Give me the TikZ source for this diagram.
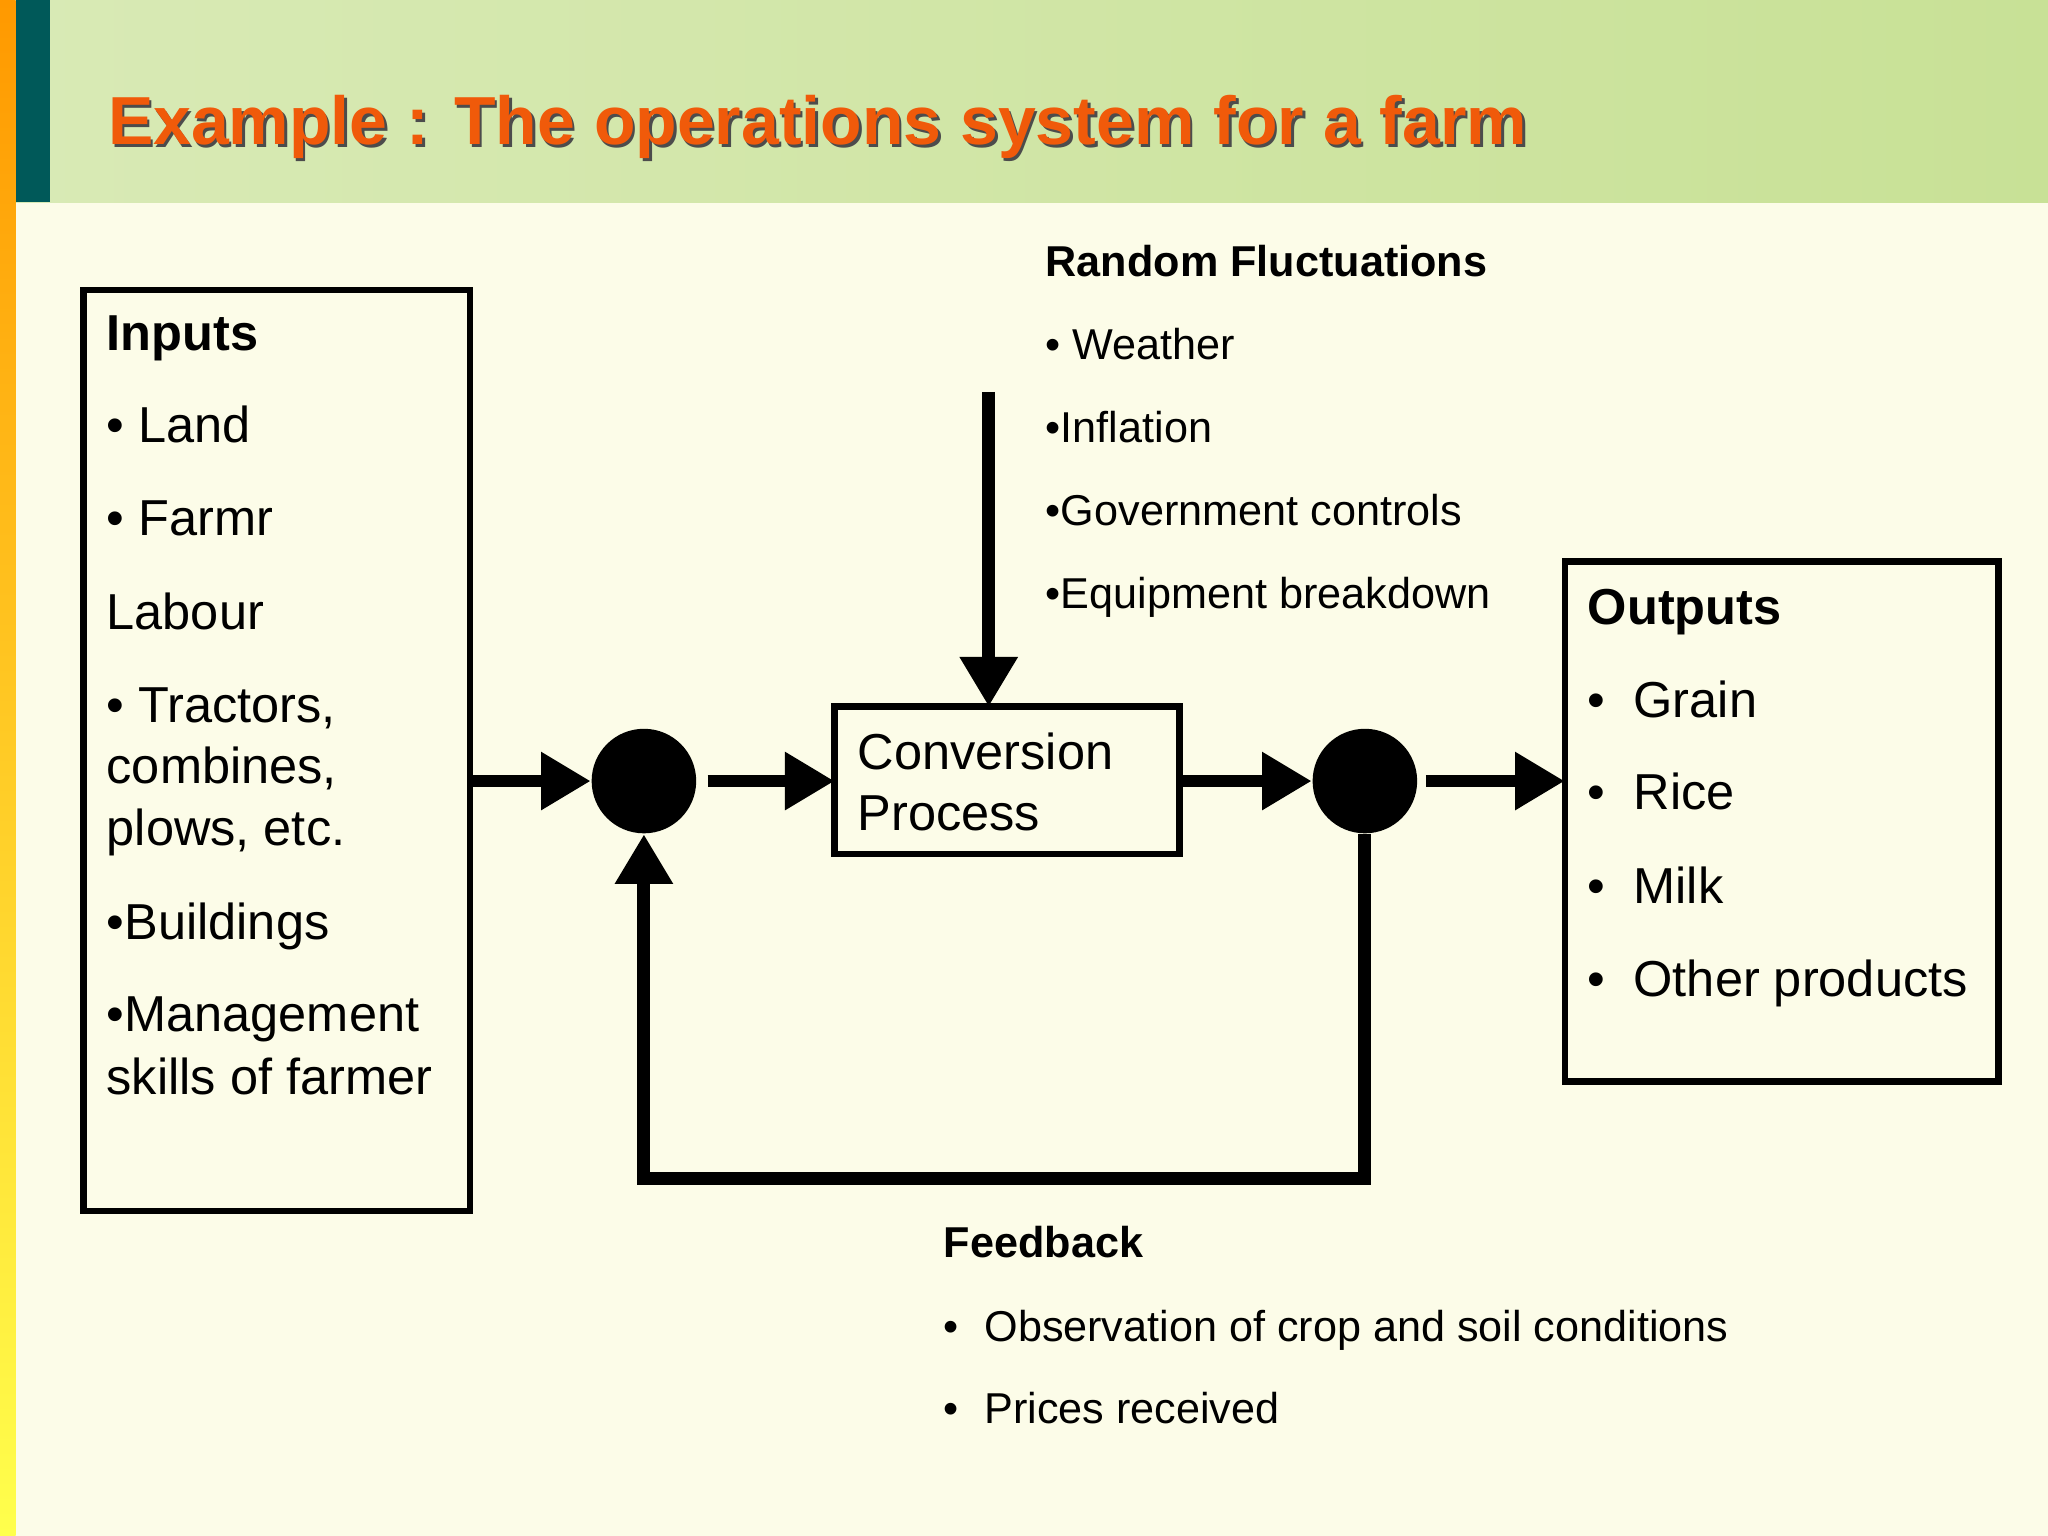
\documentclass[tikz,border=0pt]{standalone}
\usepackage{fontspec}
\setmainfont{Liberation Sans}
\usetikzlibrary{arrows.meta}
\definecolor{titleorange}{RGB}{240,90,10}
\definecolor{bandgreen}{RGB}{200,225,150}
\definecolor{cream}{RGB}{252,252,232}
\tikzstyle{box}=[draw=black,line width=1.4pt]
\tikzstyle{txt}=[anchor=base west,inner sep=0pt,font=\fontsize{11}{13}\selectfont]
\tikzstyle{small}=[anchor=base west,inner sep=0pt,font=\fontsize{9.4}{11}\selectfont]
\tikzstyle{junction}=[circle,fill=black,minimum size=0.8cm,inner sep=0pt]
\tikzstyle{flow}=[line width=2.8pt,-{Triangle[length=0.38cm,width=0.42cm]}]

\begin{document}
\begin{tikzpicture}[x=0.01cm,y=-0.01cm]
% background
  \fill[cream] (0,0) rectangle (1568,1176);
  \shade[left color=bandgreen!70!white,right color=bandgreen] (0,0) rectangle (1568,155);
  \shade[top color=orange!80!yellow,bottom color=yellow!70!white] (0,0) rectangle (12,1176);
  \fill[teal!70!black] (12,0) rectangle (38,155);
  \useasboundingbox (0,0) rectangle (1568,1176);
% title
  \node[anchor=base west,inner sep=0pt,font=\fontsize{14.8}{18}\selectfont\bfseries,text=black!70] at (84,113) {Example : The operations system for a farm};
  \node[anchor=base west,inner sep=0pt,font=\fontsize{14.8}{18}\selectfont\bfseries,text=titleorange] (title) at (82,111) {Example : The operations system for a farm};
% inputs
  \draw[box] (64,222) rectangle (360,927);
  \coordinate (inR) at (360,598);
  \node[txt,font=\fontsize{11}{13}\selectfont\bfseries] (in0) at (81,268) {Inputs};
  \node[txt] (in1) at (81,339) {\textbullet{} Land};
  \node[txt] (in2) at (81,410) {\textbullet{} Farmr};
  \node[txt] (in3) at (81,482) {Labour};
  \node[txt] (in4) at (81,553) {\textbullet{} Tractors,};
  \node[txt] (in5) at (81,600) {combines,};
  \node[txt] (in6) at (81,647) {plows, etc.};
  \node[txt] (in7) at (81,719) {\textbullet Buildings};
  \node[txt] (in8) at (81,790) {\textbullet Management};
  \node[txt] (in9) at (81,838) {skills of farmer};
% process
  \node[junction] (j1) at (493,598) {};
  \draw[box] (639,541) rectangle (903,654);
  \node[txt] (cp1) at (656,589) {Conversion};
  \node[txt] (cp2) at (656,636) {Process};
  \coordinate (cpL) at (639,598);
  \coordinate (cpR) at (903,598);
  \coordinate (cpT) at (757,541);
  \node[junction] (j2) at (1045,598) {};
% outputs
  \draw[box] (1198,430) rectangle (1530,828);
  \coordinate (outL) at (1198,598);
  \node[txt,font=\fontsize{11}{13}\selectfont\bfseries] (out0) at (1215,478) {Outputs};
  \foreach \y/\t [count=\i] in {549/Grain,620/Rice,692/Milk,763/Other products}{
    \node[txt] (ob\i) at (1215,\y) {\textbullet};
    \node[txt] (out\i) at (1250,\y) {\t};
  }
% random fluctuations
  \node[small,font=\fontsize{9.4}{11}\selectfont\bfseries] (rf0) at (800,212) {Random Fluctuations};
  \node[small] (rf1) at (800,275) {\textbullet{} Weather};
  \node[small] (rf2) at (800,339) {\textbullet Inflation};
  \node[small] (rf3) at (800,402) {\textbullet Government controls};
  \node[small] (rf4) at (800,466) {\textbullet Equipment breakdown};
  \coordinate (rfTop) at (757,300);
% feedback
  \node[small,font=\fontsize{9.4}{11}\selectfont\bfseries] (fb0) at (722,963) {Feedback};
  \node[small] (fb1) at (722,1027) {\textbullet};
  \node[small] (fb2) at (753,1027) {Observation of crop and soil conditions};
  \node[small] (fb3) at (722,1090) {\textbullet};
  \node[small] (fb4) at (753,1090) {Prices received};
% arrows
  \draw[flow] (inR) -- (j1.west);
  \draw[flow] (j1.east) ++(8,0) -- (cpL);
  \draw[flow] (cpR) -- (j2.west);
  \draw[flow] (j2.east) ++(6,0) -- (outL);
  \draw[flow] (rfTop) -- (cpT);
  \draw[flow] (j2.south) |- (j1 |- 0,902) -- (j1.south);
\end{tikzpicture}
\end{document}
